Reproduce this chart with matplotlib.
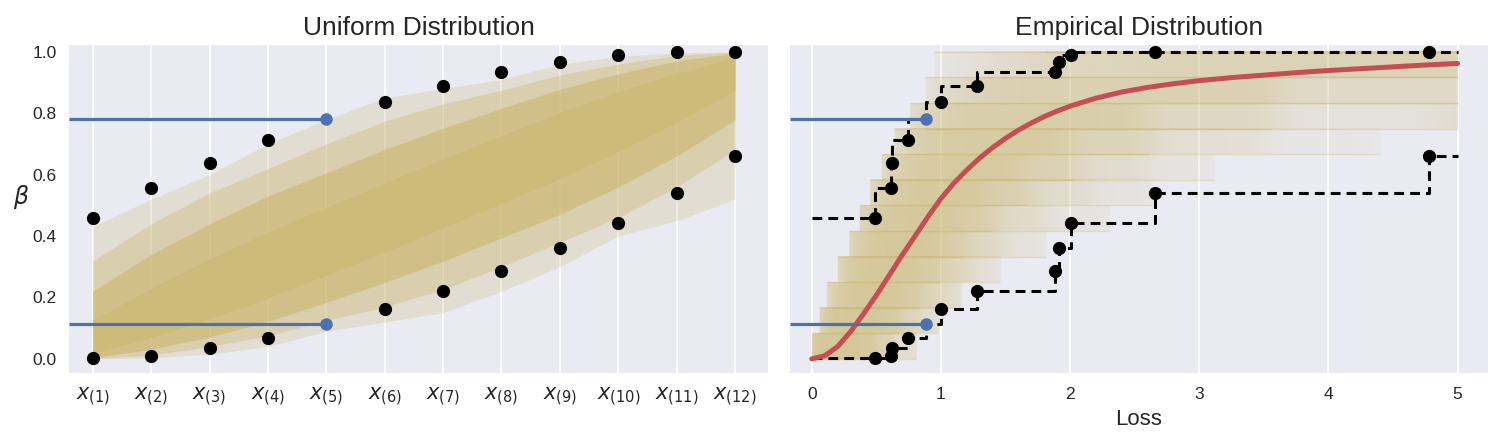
import numpy as np
import matplotlib
matplotlib.use("Agg")
import matplotlib.pyplot as plt
from matplotlib.colors import to_rgb
import seaborn as sns

sns.set_theme(style="darkgrid")
plt.rcParams["font.family"] = ["Liberation Sans", "DejaVu Sans"]
plt.rcParams["mathtext.fontset"] = "dejavusans"

# ---------------- data ----------------
order_labels = [r"$x_{(1)}$", r"$x_{(2)}$", r"$x_{(3)}$", r"$x_{(4)}$",
                r"$x_{(5)}$", r"$x_{(6)}$", r"$x_{(7)}$", r"$x_{(8)}$",
                r"$x_{(9)}$", r"$x_{(10)}$", r"$x_{(11)}$", r"$x_{(12)}$"]
order_pos = [1, 2, 3, 4, 5, 6, 7, 8, 9, 10, 11, 12]

lower_beta = [0.002, 0.010, 0.034, 0.069, 0.112, 0.164, 0.222, 0.287, 0.360, 0.444, 0.541, 0.661]
upper_beta = [0.458, 0.555, 0.639, 0.712, 0.780, 0.837, 0.888, 0.933, 0.966, 0.990, 1.000, 1.000]
highlight = 4  # x_(5)

# yellow bundle of sorted uniform samples: spread at each order statistic
uni_lo  = [0.000, 0.003, 0.015, 0.040, 0.090, 0.120, 0.150, 0.220, 0.300, 0.400, 0.450, 0.520]
uni_p01 = [0.001, 0.012, 0.040, 0.075, 0.125, 0.169, 0.226, 0.300, 0.380, 0.460, 0.560, 0.681]
uni_p05 = [0.004, 0.031, 0.071, 0.122, 0.184, 0.249, 0.318, 0.394, 0.470, 0.560, 0.660, 0.779]
uni_p20 = [0.018, 0.070, 0.130, 0.198, 0.273, 0.348, 0.427, 0.507, 0.587, 0.675, 0.770, 0.875]
uni_p80 = [0.126, 0.230, 0.325, 0.413, 0.493, 0.573, 0.652, 0.727, 0.802, 0.870, 0.930, 0.982]
uni_p95 = [0.221, 0.340, 0.440, 0.530, 0.606, 0.682, 0.751, 0.816, 0.878, 0.929, 0.970, 0.996]
uni_p99 = [0.319, 0.440, 0.540, 0.620, 0.700, 0.774, 0.831, 0.875, 0.925, 0.960, 0.988, 0.999]
uni_hi  = [0.430, 0.520, 0.600, 0.700, 0.780, 0.850, 0.880, 0.910, 0.960, 0.985, 0.997, 1.000]

# observed losses (sorted)
losses = [0.487, 0.616, 0.621, 0.749, 0.882, 1.000, 1.282, 1.883, 1.912, 2.011, 2.655, 4.780]
loss_max = 5.0

# true CDF (red curve)
cdf_x = [0.0, 0.1, 0.2, 0.3, 0.4, 0.5, 0.6, 0.7, 0.8, 0.9, 1.0, 1.1, 1.2, 1.3, 1.4,
         1.5, 1.6, 1.7, 1.8, 1.9, 2.0, 2.2, 2.4, 2.6, 2.8, 3.0, 3.25, 3.5, 3.75,
         4.0, 4.25, 4.5, 4.75, 5.0]
cdf_y = [0.0, 0.010, 0.040, 0.088, 0.146, 0.207, 0.272, 0.338, 0.400, 0.463, 0.522,
         0.572, 0.615, 0.654, 0.688, 0.718, 0.745, 0.768, 0.789, 0.807, 0.823, 0.849,
         0.869, 0.884, 0.896, 0.906, 0.916, 0.924, 0.932, 0.939, 0.945, 0.951,
         0.957, 0.962]

# empirical CDF bundle: ECDF levels and spread of the jump locations per level band
ecdf_levels = [0.0, 0.0833, 0.1667, 0.25, 0.3333, 0.4167, 0.5, 0.5833, 0.6667,
               0.75, 0.8333, 0.9167, 1.0]
ecdf_lo  = [0.000, 0.060, 0.115, 0.200, 0.290, 0.370, 0.450, 0.540, 0.640, 0.760, 0.880, 0.950]
ecdf_p01 = [0.026, 0.096, 0.181, 0.256, 0.343, 0.412, 0.497, 0.606, 0.729, 0.865, 1.064, 1.391]
ecdf_p05 = [0.054, 0.157, 0.248, 0.338, 0.434, 0.530, 0.633, 0.752, 0.883, 1.064, 1.325, 1.805]
ecdf_p20 = [0.120, 0.246, 0.351, 0.455, 0.566, 0.679, 0.807, 0.953, 1.127, 1.372, 1.757, 2.574]
ecdf_p80 = [0.344, 0.502, 0.643, 0.783, 0.926, 1.094, 1.301, 1.560, 1.939, 2.516, 3.588, 5.000]
ecdf_p95 = [0.490, 0.666, 0.829, 1.000, 1.174, 1.395, 1.664, 2.032, 2.612, 3.559, 5.000, 5.000]
ecdf_p99 = [0.634, 0.829, 1.021, 1.211, 1.457, 1.778, 2.144, 2.574, 3.451, 4.873, 5.000, 5.000]
ecdf_hi  = [0.810, 0.980, 1.159, 1.457, 1.810, 2.307, 2.637, 3.115, 4.400, 5.000, 5.000, 5.000]

# ---------------- styling ----------------
YEL = "#CCB974"
BLUE = "#4C72B0"
RED = "#C44E52"
TXT = "0.15"

fig = plt.figure(figsize=(15.05, 4.46), dpi=100)
ax1 = fig.add_axes([0.04585, 0.163, 0.4647, 0.736])
ax2 = fig.add_axes([0.5246, 0.163, 0.4643, 0.736], sharey=ax1)

ylim = (-0.047, 1.022)

# ---------------- left: uniform ----------------
for lo, hi, a in [(uni_lo, uni_hi, 0.25), (uni_p01, uni_p99, 0.38),
                  (uni_p05, uni_p95, 0.65), (uni_p20, uni_p80, 0.70)]:
    ax1.fill_between(order_pos, lo, hi, color=YEL, alpha=a, lw=0, zorder=1)

x1lim = (0.594, 12.57)
for yv in (upper_beta[highlight], lower_beta[highlight]):
    ax1.hlines(yv, x1lim[0], order_pos[highlight], color=BLUE, lw=2.3, zorder=4)

mask = [i for i in range(12) if i != highlight]
ax1.plot([order_pos[i] for i in mask], [lower_beta[i] for i in mask], "o",
         color="black", ms=8.5, zorder=5)
ax1.plot([order_pos[i] for i in mask], [upper_beta[i] for i in mask], "o",
         color="black", ms=8.5, zorder=5)
ax1.plot([order_pos[highlight]] * 2, [lower_beta[highlight], upper_beta[highlight]],
         "o", color=BLUE, ms=8, zorder=6)

ax1.set_xlim(*x1lim)
ax1.set_ylim(*ylim)
ax1.set_xticks(order_pos)
ax1.set_xticklabels(order_labels, fontsize=15, color=TXT)
ax1.set_yticks([0.0, 0.2, 0.4, 0.6, 0.8, 1.0])
ax1.set_yticklabels(["0.0", "0.2", "0.4", "0.6", "0.8", "1.0"], fontsize=12.5, color=TXT)
ax1.tick_params(axis="x", pad=9, length=0)
ax1.tick_params(axis="y", pad=9, length=0)
ax1.grid(False, axis="y")
ax1.grid(True, axis="x", color="white", lw=1.3)
ax1.set_title("Uniform Distribution", fontsize=19, color=TXT, pad=7)
ax1.set_ylabel(r"$\beta$", fontsize=17, rotation=0, color=TXT, ha="center", va="center")
ax1.yaxis.set_label_coords(-0.069, 0.537)

# ---------------- right: empirical ----------------
masses = [0.01, 0.04, 0.15, 0.60, 0.15, 0.04, 0.01]
px_per_unit = 129.2
cols = [ecdf_lo, ecdf_p01, ecdf_p05, ecdf_p20, ecdf_p80, ecdf_p95, ecdf_p99, ecdf_hi]
xgrid = np.linspace(0.0, loss_max, 1001)
dx = xgrid[1] - xgrid[0]
yel_rgb = np.array(to_rgb(YEL))
for b in range(12):
    qs = [c[b] for c in cols]
    dens = np.zeros_like(xgrid)
    for j in range(7):
        xa, xb = qs[j], qs[j + 1]
        if xb - xa < 1e-3:
            continue
        sel = (xgrid >= xa) & (xgrid <= xb)
        dens[sel] = masses[j] / (xb - xa)
    # soften the block edges (rendering only)
    sig = 0.025 + 0.012 * b
    kx = np.arange(-4 * sig, 4 * sig + dx, dx)
    ker = np.exp(-0.5 * (kx / sig) ** 2)
    ker /= ker.sum()
    npad = len(kx)
    padded = np.pad(dens, npad, mode="edge")
    dens_s = np.convolve(padded, ker, mode="same")[npad:-npad]
    dens_s[dens == 0] = 0.0
    lpp = 1000 * dens_s / px_per_unit
    alpha = 0.72 * (1 - np.exp(-0.7 * lpp ** 0.6))
    rgba = np.zeros((1, len(xgrid), 4))
    rgba[0, :, :3] = yel_rgb
    rgba[0, :, 3] = alpha
    ax2.imshow(rgba, extent=[xgrid[0], xgrid[-1], ecdf_levels[b], ecdf_levels[b + 1]],
               aspect="auto", interpolation="bilinear", zorder=1, origin="lower")

# faint horizontal ECDF segments at each level
for k in range(13):
    if k == 0:
        xa, xb, ca, cb = 0.0, ecdf_hi[0], 0.0, ecdf_p95[0]
    elif k == 12:
        xa, xb, ca, cb = ecdf_lo[11], loss_max, ecdf_p05[11], loss_max
    else:
        xa, xb = ecdf_lo[k - 1], ecdf_hi[k]
        ca, cb = ecdf_p05[k - 1], ecdf_p95[k]
    ax2.hlines(ecdf_levels[k], xa, xb, color=YEL, lw=1.0, alpha=0.35, zorder=1.5)
    ax2.hlines(ecdf_levels[k], ca, cb, color=YEL, lw=1.0, alpha=0.45, zorder=1.5)

step_x = [0.0] + losses + [loss_max]
ax2.plot(step_x, [upper_beta[0]] + upper_beta + [upper_beta[-1]], color="black",
         lw=2.2, dashes=(3.2, 2.0), drawstyle="steps-pre", zorder=4)
ax2.plot(step_x, [lower_beta[0]] + lower_beta + [lower_beta[-1]], color="black",
         lw=2.2, dashes=(3.2, 2.0), drawstyle="steps-post", zorder=4)

ax2.plot(cdf_x, cdf_y, color=RED, lw=3.6, zorder=4.5, solid_capstyle="round",
         solid_joinstyle="round")

x2lim = (-0.172, 5.238)
for yv in (upper_beta[highlight], lower_beta[highlight]):
    ax2.hlines(yv, x2lim[0], losses[highlight], color=BLUE, lw=2.3, zorder=5)

ax2.plot([losses[i] for i in mask], [lower_beta[i] for i in mask], "o",
         color="black", ms=8.5, zorder=6)
ax2.plot([losses[i] for i in mask], [upper_beta[i] for i in mask], "o",
         color="black", ms=8.5, zorder=6)
ax2.plot([losses[highlight]] * 2, [lower_beta[highlight], upper_beta[highlight]],
         "o", color=BLUE, ms=8, zorder=7)

ax2.set_xlim(*x2lim)
ax2.set_ylim(*ylim)
ax2.set_xticks([0, 1, 2, 3, 4, 5])
ax2.set_xticklabels(["0", "1", "2", "3", "4", "5"], fontsize=12.5, color=TXT)
ax2.tick_params(axis="x", pad=10, length=0)
ax2.tick_params(axis="y", length=0, labelleft=False)
ax2.grid(False, axis="y")
ax2.grid(True, axis="x", color="white", lw=1.3)
ax2.set_axisbelow(True)
ax2.set_title("Empirical Distribution", fontsize=19, color=TXT, pad=7)
ax2.set_xlabel("Loss", fontsize=16, color=TXT)
ax2.xaxis.set_label_coords(0.5, -0.1575)
ax2.xaxis.label.set_va("baseline")

for ax in (ax1, ax2):
    for s in ax.spines.values():
        s.set_visible(False)

fig.savefig("out.png", dpi=100)
